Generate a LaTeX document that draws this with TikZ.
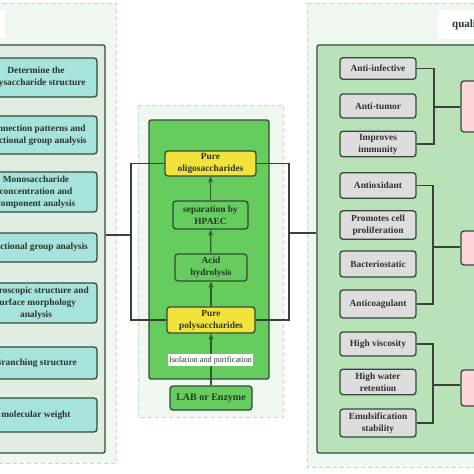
\documentclass[tikz,border=0pt]{standalone}
\usepackage{fontspec}
\setmainfont{Liberation Serif}
\usetikzlibrary{arrows.meta}
\definecolor{pale}{HTML}{EEF8EE}
\definecolor{dashgrey}{HTML}{C6D8C6}
\definecolor{edge}{HTML}{34493A}
\definecolor{txt}{HTML}{2A352C}
\definecolor{leftfill}{HTML}{E1EDE1}
\definecolor{cyanbox}{HTML}{A6E3DC}
\definecolor{cgreen}{HTML}{66CC5E}
\definecolor{rgreen}{HTML}{B9E2B9}
\definecolor{greybox}{HTML}{DDDDDD}
\definecolor{yellowbox}{HTML}{F2E23C}
\definecolor{pinkbox}{HTML}{FFD3DA}
\definecolor{arrowgreen}{HTML}{2E5E2E}
\definecolor{linegrey}{HTML}{3C3F3C}
\begin{document}
\begin{tikzpicture}[x=1pt,y=-1pt,
    wrap/.style={draw=dashgrey,fill=pale,dash pattern=on 4pt off 3pt,line width=0.8pt},
    panel/.style={draw=edge,line width=1.3pt,rounded corners=2pt,inner sep=0pt},
    box/.style={draw=edge,line width=1.3pt,rounded corners=3pt,inner sep=0pt,align=center,
      text=txt,font=\bfseries\fontsize{9.4}{12}\selectfont},
    lbox/.style={box,fill=cyanbox,minimum width=122},
    rbox/.style={box,fill=greybox,minimum width=76},
    cbox/.style={box,fill=cgreen},
    ybox/.style={box,fill=yellowbox},
    pbox/.style={box,fill=pinkbox,minimum width=40},
    titlebox/.style={fill=white,inner sep=0pt,text=txt,font=\bfseries\fontsize{11}{13}\selectfont},
    flow/.style={-{Stealth[length=6pt,width=5pt]},draw=arrowgreen,line width=1.2pt},
    link/.style={draw=linegrey,line width=1.2pt}]
  \useasboundingbox (0,0) rectangle (474,474);
  \clip (0,0) rectangle (474,474);
  % dashed frames
  \draw[wrap] (-10,3) rectangle (116,463);
  \draw[wrap] (138,105) rectangle (283,417);
  \draw[wrap] (307,3) rectangle (490,467);
  \node[titlebox,anchor=north east,minimum width=30,minimum height=28] (ltitle) at (5,10) {};
  \node[titlebox,anchor=north west,minimum height=29,text width=66,align=left,inner xsep=14] (rtitle) at (438,10) {quality};
  % panels
  \node[panel,fill=leftfill,minimum width=125,minimum height=408] (lpanel) at (42.5,249) {};
  \node[panel,fill=cgreen,minimum width=120,minimum height=259] (cpanel) at (209,249.5) {};
  \node[panel,fill=rgreen,minimum width=183,minimum height=408] (rpanel) at (408.5,249) {};
  % structure analysis
  \draw
    (36,77.5) node[lbox,minimum height=39] (struct){Determine the\\polysaccharide structure}
    (36,135) node[lbox,minimum height=38] (conn){Connection patterns and\\functional group analysis}
    (36,192) node[lbox,minimum height=40] (mono){Monosaccharide\\concentration and\\component analysis}
    (36,247.5) node[lbox,minimum height=29] (func){Functional group analysis}
    (36,303) node[lbox,minimum height=40] (micro){Microscopic structure and\\surface morphology\\analysis}
    (36,363) node[lbox,minimum height=32] (branch){Branching structure}
    (36,415) node[lbox,minimum height=34] (mw){molecular weight};
  % preparation
  \draw
    (210.5,163.5) node[ybox,minimum width=91,minimum height=25] (oligo){Pure\\oligosaccharides}
    (210.5,215) node[cbox,minimum width=75,minimum height=28] (hpaec){separation by\\HPAEC}
    (211,267.5) node[cbox,minimum width=72,minimum height=27] (acid){Acid\\hydrolysis}
    (211,320) node[ybox,minimum width=88,minimum height=26] (poly){Pure\\polysaccharides}
    (211,398) node[cbox,minimum width=82,minimum height=24,font=\bfseries\fontsize{10}{12}\selectfont] (lab){LAB or Enzyme};
  \begin{scope}[flow]
    \draw (lab) -- (poly);
    \draw (poly) -- (acid);
    \draw (acid) -- (hpaec);
    \draw (hpaec) -- (oligo);
  \end{scope}
  \node[fill=white,inner xsep=1pt,inner ysep=2pt,text=txt,font=\fontsize{8.2}{10}\selectfont] (iso) at (210.5,360) {Isolation and purification};
  % bioactivity and quality
  \draw
    (378,68.5) node[rbox,minimum height=21.5] (infect){Anti-infective}
    (378,106) node[rbox,minimum height=24] (tumor){Anti-tumor}
    (378,144) node[rbox,minimum height=25.5] (immun){Improves\\immunity}
    (378,185.5) node[rbox,minimum height=25.5] (oxid){Antioxidant}
    (378,225) node[rbox,minimum height=28.5] (prolif){Promotes cell\\proliferation}
    (378,264) node[rbox,minimum height=26] (bact){Bacteriostatic}
    (378,304) node[rbox,minimum height=28] (coag){Anticoagulant}
    (378,344) node[rbox,minimum height=24] (visc){High viscosity}
    (378,382) node[rbox,minimum height=25.5] (water){High water\\retention}
    (378,423) node[rbox,minimum height=28] (emul){Emulsification\\stability};
  \draw
    (481,106.5) node[pbox,minimum height=51] (pk1){}
    (481,248) node[pbox,minimum height=34] (pk2){}
    (481,388) node[pbox,minimum height=36] (pk3){};
  \coordinate (lj) at (131,235);
  \coordinate (rj) at (289,233);
  \coordinate (b1) at (434,107);
  \coordinate (b2) at (433,247);
  \coordinate (b3) at (433,385);
  \begin{scope}[link]
    \draw (lpanel.east |- lj) -- (lj);
    \draw (oligo.west) -| (lj) |- (poly.west);
    \draw (oligo.east) -| (rj) |- (poly.east);
    \draw (rj) -- (rpanel.west |- rj);
    \draw (infect.east) -| (b1) |- (immun.east);
    \draw (b1) -- (pk1.west |- b1);
    \draw (oxid.east) -| (b2) |- (coag.east);
    \draw (b2) -- (pk2.west |- b2);
    \draw (visc.east) -| (b3) |- (emul.east);
    \draw (b3) -- (pk3.west |- b3);
  \end{scope}
\end{tikzpicture}
\end{document}
